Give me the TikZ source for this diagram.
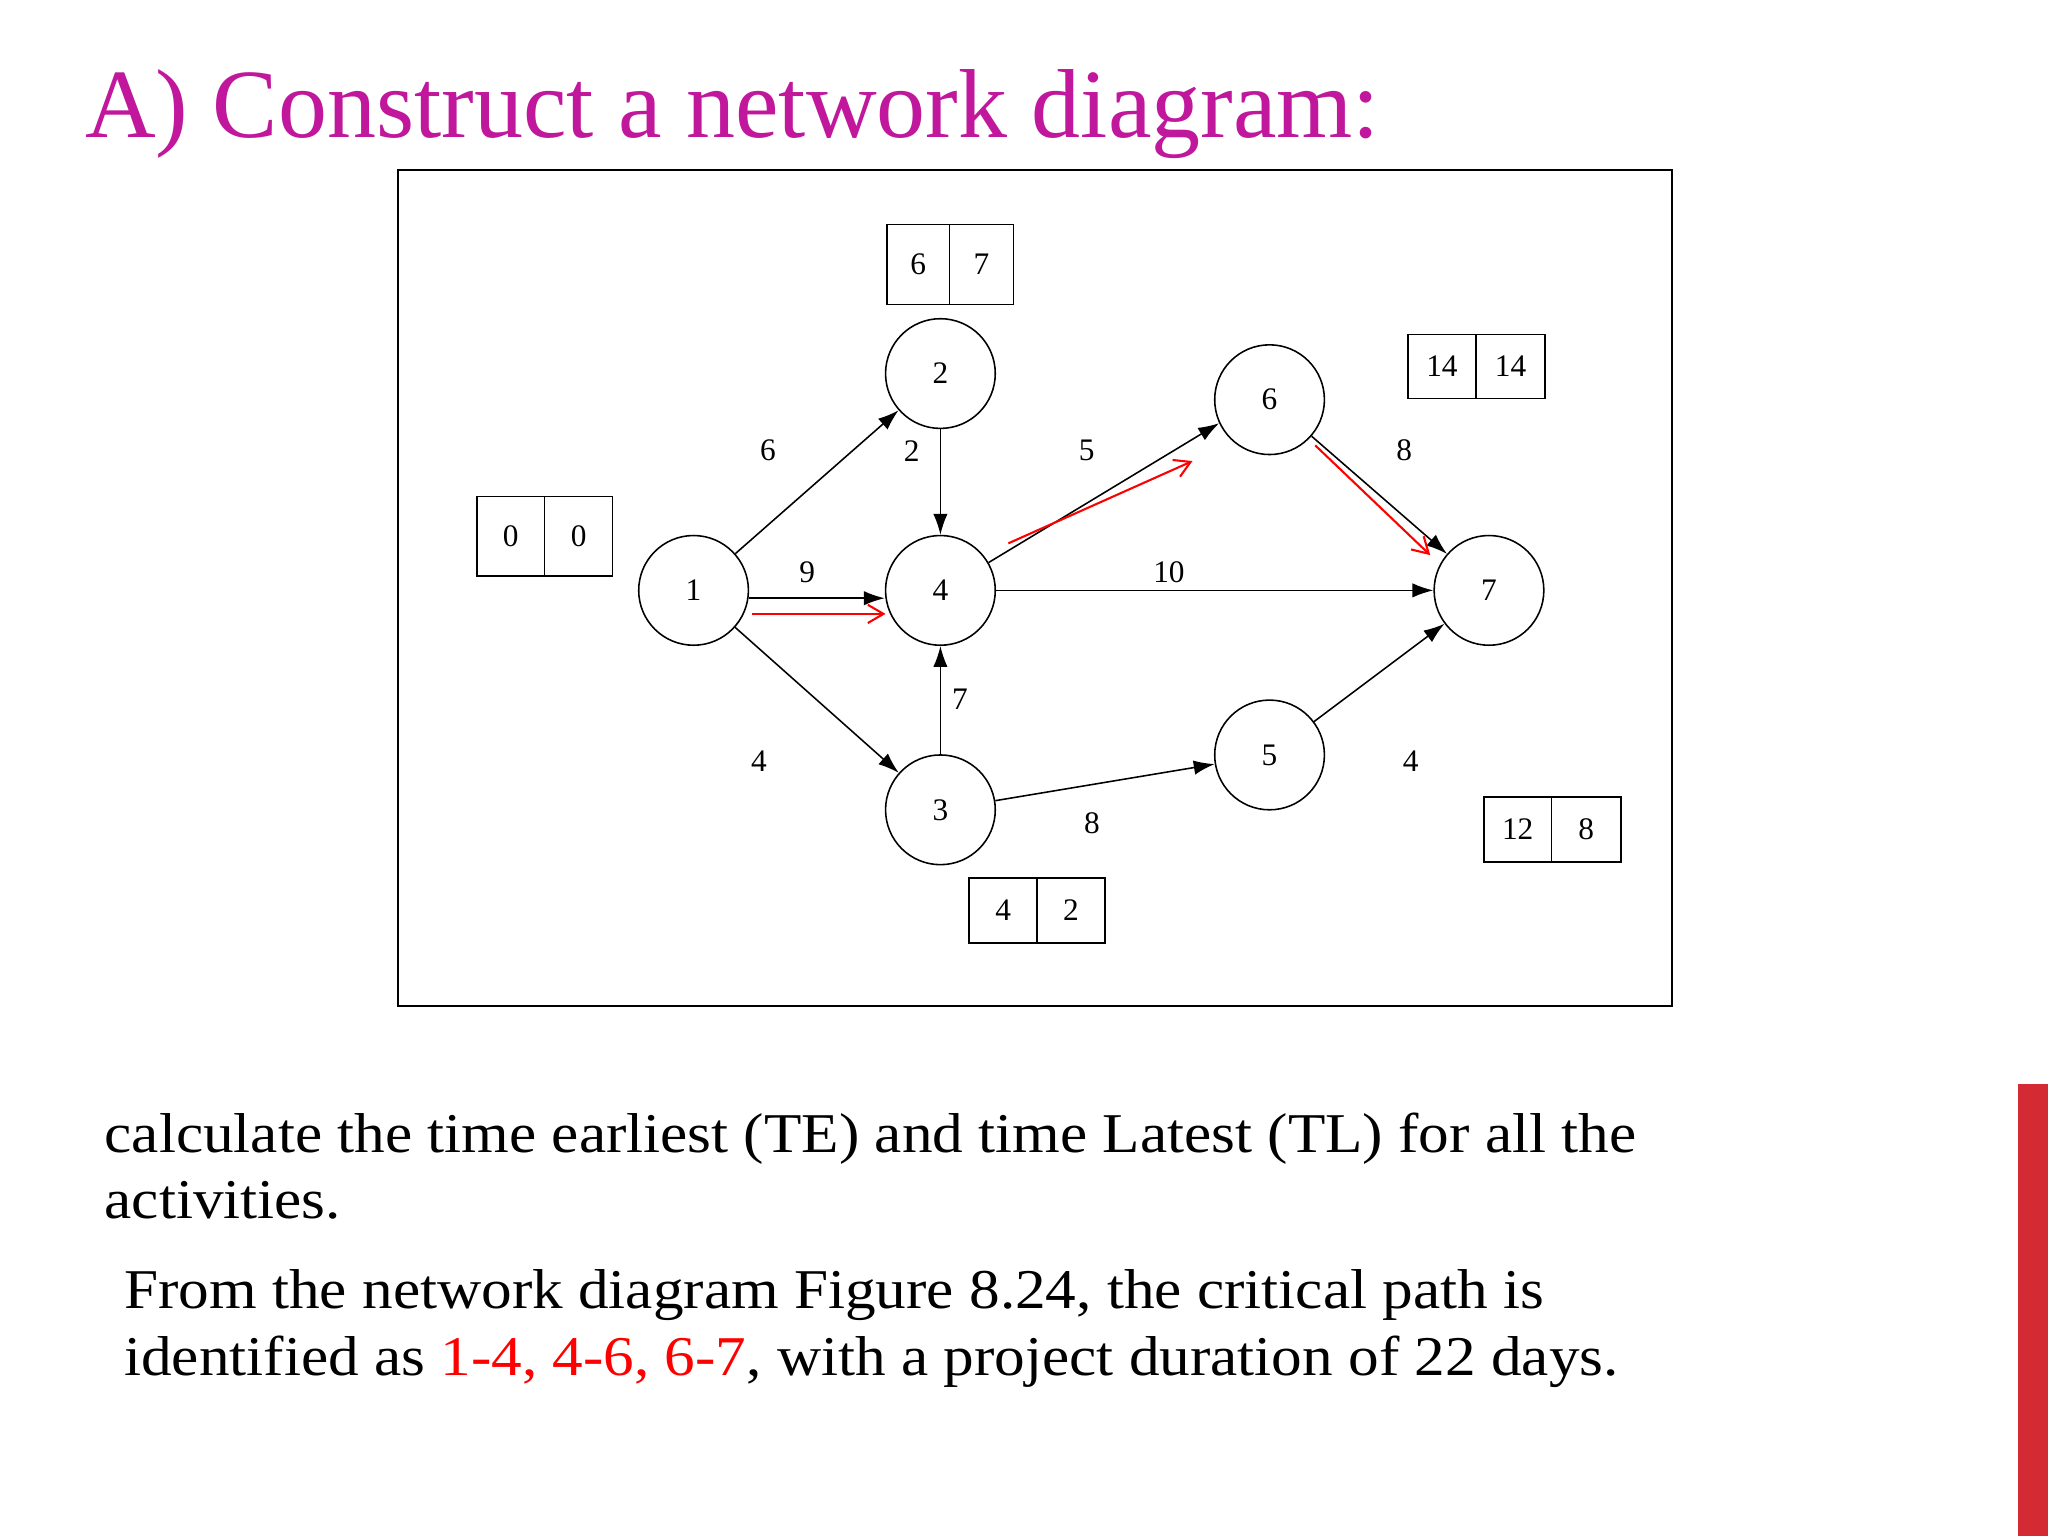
\documentclass[tikz,border=0pt]{standalone}
\usepackage{fontspec}
\setmainfont{Liberation Serif}
\newfontfamily\bodyfont[FakeStretch=1.09]{Liberation Serif}
\usetikzlibrary{arrows.meta}
\definecolor{titlec}{HTML}{C0179C}
\definecolor{barc}{HTML}{D42A33}
\begin{document}
\begin{tikzpicture}[x=1pt,y=-1pt,
  ev/.style={circle,draw,line width=1.2pt,minimum size=84pt,inner sep=0pt,font=\fontsize{24}{24}\selectfont},
  lab/.style={font=\fontsize{24}{24}\selectfont,inner sep=0pt},
  arr/.style={line width=1.2pt,-{Latex[length=16pt,width=11pt]}},
  crit/.style={draw=red,line width=1.6pt,-{Straight Barb[length=12pt,width=14pt]}},
  bx/.style={draw,line width=1.2pt},
  txt/.style={anchor=base west,inner sep=0pt,font=\bodyfont\fontsize{43}{51}\selectfont}]
\useasboundingbox (0,0) rectangle (1568,1176);
\fill[white] (0,0) rectangle (1568,1176);
\fill[barc] (1545,830) rectangle (1568,1176);
\node[anchor=base west,inner sep=0pt,text=titlec,font=\fontsize{75}{75}\selectfont] (title) at (65,105) {A) Construct a network diagram:};
\draw[line width=1.4pt] (305,130) rectangle (1280,770);
% events
\node[ev] (n1) at (531,452) {1};
\node[ev] (n2) at (720,286) {2};
\node[ev] (n4) at (720,452) {4};
\node[ev] (n3) at (720,620) {3};
\node[ev] (n6) at (972,306) {6};
\node[ev] (n5) at (972,578) {5};
\node[ev] (n7) at (1140,452) {7};
% boxes
\foreach \nm/\xa/\ya/\xm/\xb/\yb/\a/\b in {b2/679/172/727/776/233/6/7, b1/365/380/417/469/441/0/0, b6/1078/256/1130/1183/305/14/14, b5/1136/610/1188/1241/660/12/8, b3/742/672/794/846/722/4/2}{
  \draw[bx] (\xa,\ya) rectangle (\xb,\yb);
  \draw[bx] (\xm,\ya) -- (\xm,\yb);
  \node[lab] (\nm a) at ({(\xa+\xm)/2},{(\ya+\yb)/2}) {\a};
  \node[lab] (\nm b) at ({(\xm+\xb)/2},{(\ya+\yb)/2}) {\b};
}
% edges
\draw[arr] (n1) -- (n2);
\draw[arr] (n2) -- (n4);
\draw[arr] (n1.east) ++(0,6) coordinate (s14) -- (n4.west |- s14);
\draw[arr] (n1) -- (n3);
\draw[arr] (n3) -- (n4);
\draw[arr] (n3) -- (n5);
\draw[arr] (n4.30) -- (n6.205);
\draw[arr] (n4) -- (n7);
\draw[arr] (n6) -- (n7);
\draw[arr] (n5) -- (n7);
% labels
\node[lab] (l12) at (588,345) {6};
\node[lab] (l24) at (698,345) {2};
\node[lab] (l14) at (618,438) {9};
\node[lab] (l13) at (581,583) {4};
\node[lab] (l34) at (735,535) {7};
\node[lab] (l35) at (836,630) {8};
\node[lab] (l46) at (832,345) {5};
\node[lab] (l47) at (895,438) {10};
\node[lab] (l67) at (1075,345) {8};
\node[lab] (l57) at (1080,583) {4};
% critical path
\coordinate (c1a) at (576,470); \coordinate (c1b) at (678,470);
\coordinate (c2a) at (772,416); \coordinate (c2b) at (913,353);
\coordinate (c3a) at (1007,341); \coordinate (c3b) at (1095,425);
\draw[crit] (c1a) -- (c1b);
\draw[crit] (c2a) -- (c2b);
\draw[crit] (c3a) -- (c3b);
% text
\node[txt] (t1) at (80,882) {calculate the time earliest (TE) and time Latest (TL) for all the};
\node[txt] (t2) at (80,933) {activities.};
\node[txt] (t3) at (95,1002) {From the network diagram Figure 8.24, the critical path is};
\node[txt] (t4) at (95,1053) {identified as \textcolor{red}{1-4, 4-6, 6-7}, with a project duration of 22 days.};
\end{tikzpicture}
\end{document}
